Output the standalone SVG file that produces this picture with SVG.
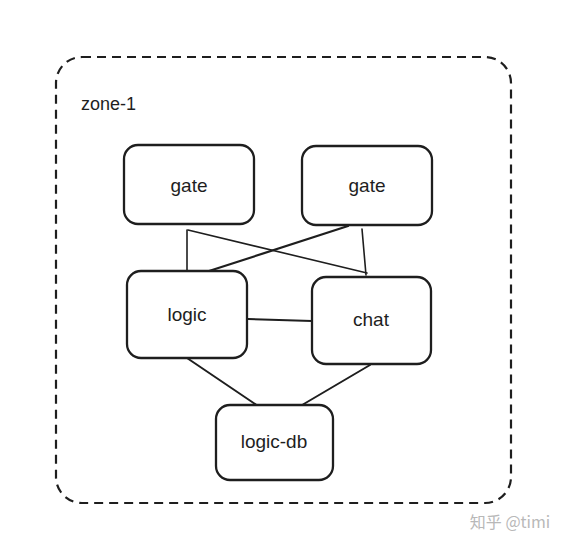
<svg xmlns="http://www.w3.org/2000/svg" width="568" height="552" viewBox="0 0 568 552">
<style>
.box{fill:#fff;stroke:#1e1e1e;stroke-width:2.3;}
.zone{fill:none;stroke:#1e1e1e;stroke-width:2.2;stroke-dasharray:9 6;}
.lbl{font-family:"Liberation Sans",Arial,sans-serif;font-size:19px;fill:#1e1e1e;text-anchor:middle;}
.edge{stroke:#1e1e1e;stroke-width:2;fill:none;stroke-linecap:round;}
</style>
<rect width="568" height="552" fill="#fff"/>
<g id="zone-1">
<rect class="zone" x="56" y="57" width="455" height="446" rx="26"/>
<text x="81" y="110" style="font-family:'Liberation Sans',Arial,sans-serif;font-size:18px;fill:#1e1e1e;">zone-1</text>
</g>
<g id="connectors">
<line class="edge" x1="187" y1="230" x2="187" y2="271" style="stroke-width:1.6"/>
<line class="edge" x1="188" y1="230" x2="367" y2="273" style="stroke-width:1.6"/>
<line class="edge" x1="348" y1="226" x2="209" y2="271" style="stroke-width:2.2"/>
<line class="edge" x1="362" y1="229" x2="366" y2="275" style="stroke-width:1.6"/>
<line class="edge" x1="248" y1="319" x2="312" y2="321"/>
<line class="edge" x1="187" y1="358" x2="258" y2="406"/>
<line class="edge" x1="370" y1="365" x2="297" y2="408"/>
</g>
<g id="gate-1">
<rect class="box" x="124" y="145" width="130" height="79" rx="14"/>
<text class="lbl" x="189" y="192">gate</text>
</g>
<g id="gate-2">
<rect class="box" x="302" y="146" width="130" height="79" rx="14"/>
<text class="lbl" x="367" y="192">gate</text>
</g>
<g id="logic">
<rect class="box" x="127" y="271" width="120" height="87" rx="14"/>
<text class="lbl" x="187" y="321">logic</text>
</g>
<g id="chat">
<rect class="box" x="312" y="277" width="119" height="87" rx="14"/>
<text class="lbl" x="371" y="326">chat</text>
</g>
<g id="logic-db">
<rect class="box" x="216" y="405" width="117" height="75" rx="14"/>
<text class="lbl" x="274" y="448">logic-db</text>
</g>
<text x="510" y="528" style="font-family:'Noto Sans CJK SC','Liberation Sans',sans-serif;font-size:16px;fill:#b8b8b8;text-anchor:middle;">知乎 @timi</text>
</svg>
